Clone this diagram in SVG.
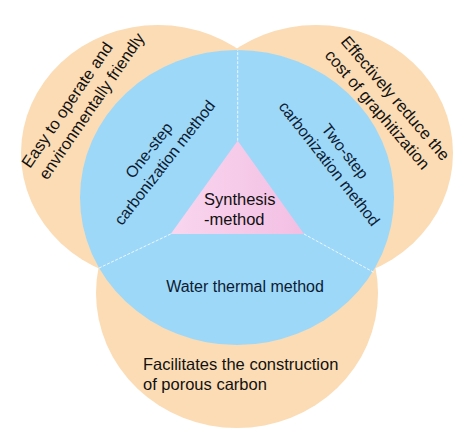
<svg xmlns="http://www.w3.org/2000/svg" width="474" height="441" viewBox="0 0 474 441">
<defs>
<linearGradient id="pink" x1="0" y1="0" x2="1" y2="0">
<stop offset="0" stop-color="#f9d6ef"/><stop offset="1" stop-color="#f3bfe3"/>
</linearGradient>
<style>
.orange{fill:#fbdcb5}
.blue{fill:#9dd8f8}
.t{font-family:"Liberation Sans",Arial,sans-serif;font-size:16.5px;fill:#111}
.tb{font-family:"Liberation Sans",Arial,sans-serif;font-size:16px;fill:#0d1b33}
.div{stroke:#fff;stroke-width:1;fill:none;stroke-dasharray:3 1.5;opacity:.8}
</style>
</defs>
<rect width="474" height="441" fill="#fff"/>
<g id="lobe-left"><ellipse class="orange" cx="158" cy="153" rx="137" ry="128"/></g>
<g id="lobe-right"><ellipse class="orange" cx="316" cy="153" rx="137" ry="128"/></g>
<g id="lobe-bottom"><ellipse class="orange" cx="237" cy="293" rx="141" ry="135"/></g>
<g id="methods"><ellipse class="blue" cx="237" cy="197.5" rx="157" ry="147.5"/></g>
<g id="connectors">
<line class="div" x1="237.7" y1="140.7" x2="237.7" y2="50"/>
<line class="div" x1="170.7" y1="234" x2="97" y2="269"/>
<line class="div" x1="304" y1="234" x2="375" y2="273"/>
</g>
<g id="synthesis">
<polygon points="237.7,140.7 170.7,234 304,234" fill="url(#pink)"/>
<text class="t" x="204" y="205">Synthesis<tspan x="204" y="225">-method</tspan></text>
</g>
<g id="text-left"><text class="t" transform="translate(30,169) rotate(-55.6)">Easy to operate and<tspan x="0" y="21">environmentally friendly</tspan></text></g>
<g id="text-right"><text class="t" transform="translate(340,42) rotate(49.5)">Effectively reduce the<tspan x="0" y="21">cost of graphitization</tspan></text></g>
<g id="text-bottom"><text class="t" x="143" y="370">Facilitates the construction<tspan x="143" y="390">of porous carbon</tspan></text></g>
<g id="one-step"><text class="tb" text-anchor="middle" transform="translate(169,166) rotate(-52)"><tspan x="0" y="-20">One-step</tspan><tspan x="0" y="0">carbonization method</tspan></text></g>
<g id="two-step"><text class="tb" text-anchor="middle" transform="translate(325,167) rotate(52)"><tspan x="0" y="-20">Two-step</tspan><tspan x="0" y="0">carbonization method</tspan></text></g>
<g id="water"><text class="tb" text-anchor="middle" x="245" y="292" font-size="16.5">Water thermal method</text></g>
</svg>
